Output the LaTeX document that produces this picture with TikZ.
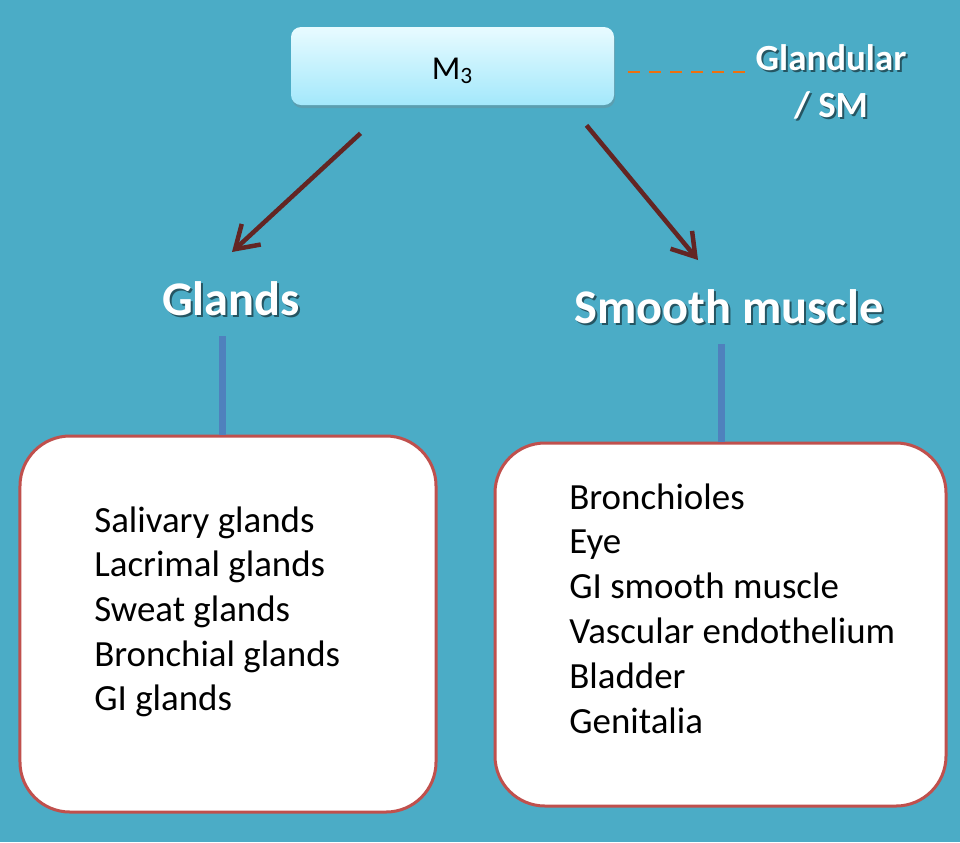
\documentclass[tikz,border=0pt]{standalone}
\usepackage{fontspec}
\setmainfont{Carlito}
\usetikzlibrary{arrows.meta,shadows}

\definecolor{slidebg}{HTML}{4BACC6}
\definecolor{boxred}{HTML}{C0504D}
\definecolor{stemblue}{HTML}{4F81BD}
\definecolor{arrowbrown}{HTML}{632523}
\definecolor{dashorange}{HTML}{EE700E}
\definecolor{mtop}{HTML}{E8FBFF}
\definecolor{mbottom}{HTML}{A3E8FB}

\tikzset{
  receptor/.style={rounded corners=2mm, top color=mtop, bottom color=mbottom,
    minimum width=64.6mm, minimum height=15.6mm, text height=5.2mm, text depth=0mm,
    font=\fontsize{19}{22}\selectfont,
    drop shadow={shadow xshift=0.2mm, shadow yshift=-0.6mm, opacity=0.3}},
  listbox/.style={draw=boxred, line width=0.6mm, fill=white, rounded corners=10mm},
  headtext/.style={text=white, inner sep=0pt, font=\bfseries\fontsize{27.5}{33}\selectfont},
  sidetext/.style={text=white, inner sep=0pt, font=\bfseries\fontsize{21}{25}\selectfont},
  itemtext/.style={anchor=base west, inner sep=0pt, font=\fontsize{21}{25}\selectfont},
  bigarrow/.style={draw=arrowbrown, line width=0.9mm,
    -{Straight Barb[length=4.4mm,width=5.6mm]}},
  stem/.style={draw=stemblue, line width=1.4mm},
}

% white bold label with a dark shadow behind it
\newcommand{\shadowlabel}[4]{%
  \node[#3, text=black, opacity=0.5, anchor=base] (#1-sh) at ([shift={(2,2)}]#2) {#4};
  \node[#3, anchor=base] (#1) at (#2) {#4};
}

\begin{document}
\begin{tikzpicture}[x=0.2mm,y=-0.2mm]
    \fill[slidebg] (0,0) rectangle (960,842);
    \useasboundingbox (0,0) rectangle (960,842);

    % receptor box
    \node[receptor] (mthree) at (452.5,66) {M\textsubscript{3}};
    \coordinate (dashend) at (745,72);
    \draw[dashorange, line width=0.55mm, dash pattern=on 2.4mm off 1.8mm]
        ([shift={(14,6)}]mthree.east) -- (dashend);
    \shadowlabel{glandular}{831,70}{sidetext}{Glandular}
    \shadowlabel{glsm}{831,117}{sidetext}{/ SM}

    % headings
    \shadowlabel{glands}{231,315}{headtext}{Glands}
    \shadowlabel{smooth}{729,323}{headtext}{Smooth muscle}

    \draw[bigarrow] ([shift={(-92,28)}]mthree.south) -- ([shift={(1,-63)}]glands.base);
    \draw[bigarrow] ([shift={(134,20)}]mthree.south) -- ([shift={(-31,-63)}]smooth.base);

    % lists
    \node[listbox, minimum width=83.2mm, minimum height=75.2mm] (glbox) at (228,624) {};
    \node[listbox, minimum width=90.2mm, minimum height=72.6mm] (smbox) at (720.5,624.5) {};

    \coordinate (glstem) at (222,336);
    \coordinate (smstem) at (721,344);
    \draw[stem] (glstem) -- (glstem |- glbox.north);
    \draw[stem] (smstem) -- (smstem |- smbox.north);

    \foreach \txt [count=\i] in {Salivary glands, Lacrimal glands, Sweat glands,
        Bronchial glands, GI glands}
        \node[itemtext] (gl-\i) at (94,{532+44.7*(\i-1)}) {\txt};
    \foreach \txt [count=\i] in {Bronchioles, Eye, GI smooth muscle,
        Vascular endothelium, Bladder, Genitalia}
        \node[itemtext] (sm-\i) at (569,{509+44.8*(\i-1)}) {\txt};
\end{tikzpicture}
\end{document}
